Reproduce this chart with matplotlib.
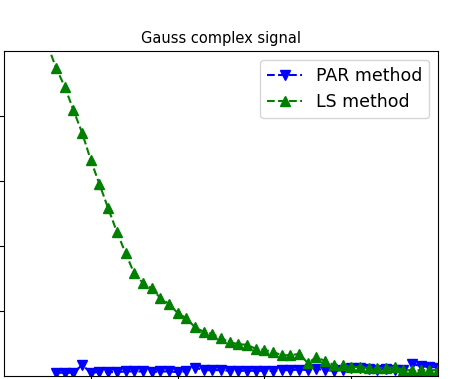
import matplotlib
matplotlib.use("Agg")
import matplotlib.pyplot as plt

# x positions (the tick labels are cut off in the reference, so units are arbitrary)
x_par = list(range(6, 51))
x_ls = list(range(5, 51))

# PAR method (blue, down triangles)
y_par = [0.05, 0.05, 0.05, 0.17, 0.05, 0.06, 0.06, 0.06, 0.07, 0.07,
         0.07, 0.06, 0.07, 0.07, 0.06, 0.07, 0.13, 0.09, 0.09, 0.09,
         0.08, 0.08, 0.08, 0.08, 0.08, 0.08, 0.09, 0.09, 0.10, 0.09,
         0.11, 0.09, 0.08, 0.09, 0.12, 0.13, 0.11, 0.10, 0.11, 0.10,
         0.10, 0.19, 0.15, 0.14, 0.13]

# LS method (green, up triangles)
y_ls = [5.10, 4.74, 4.45, 4.09, 3.74, 3.32, 2.95, 2.58, 2.22, 1.89,
        1.58, 1.43, 1.35, 1.20, 1.11, 0.97, 0.89, 0.75, 0.68, 0.65,
        0.58, 0.52, 0.49, 0.48, 0.42, 0.40, 0.37, 0.32, 0.32, 0.34,
        0.20, 0.29, 0.23, 0.17, 0.17, 0.14, 0.14, 0.12, 0.12, 0.12,
        0.14, 0.09, 0.09, 0.09, 0.09, 0.09]

fig = plt.figure(figsize=(4.74, 3.79), dpi=100)
# the reference is a crop of a bigger figure: axes run off the left/bottom edge
ax = fig.add_axes([4 / 474, 3 / 379, 434 / 474, 325 / 379])

ax.plot(x_par, y_par, 'bv--', markersize=6.5, label='PAR method')
ax.plot(x_ls, y_ls, 'g^--', markersize=6.5, label='LS method')

ax.set_xlim(0, 50)
ax.set_ylim(0, 5)
ax.set_xticks([10, 20, 30, 40])
ax.set_yticks([1, 2, 3, 4])
ax.set_xticklabels([])
ax.set_yticklabels([])

ax.set_title('Gauss complex signal', fontsize=10.5)
ax.legend(loc='upper right', fontsize=12.5)

fig.savefig('out.png', dpi=100)
